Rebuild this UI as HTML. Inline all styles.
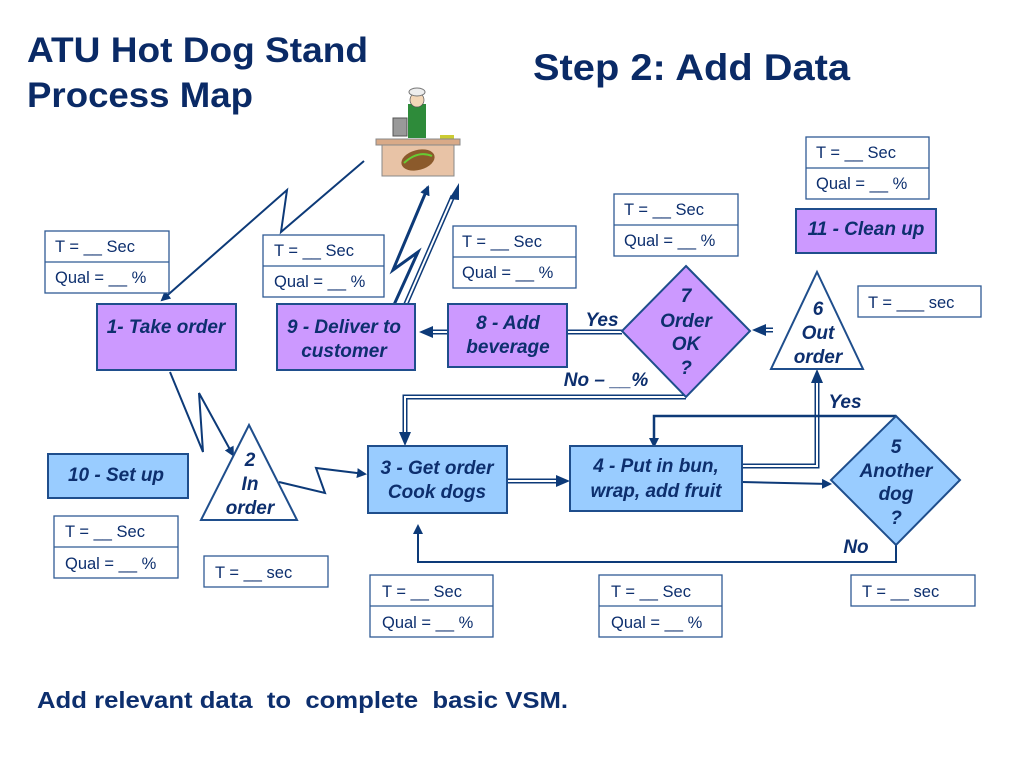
<!DOCTYPE html>
<html><head><meta charset="utf-8"><style>
body{margin:0;background:#fff}
svg{display:block}
text{font-family:"Liberation Sans",sans-serif;fill:#0d2f6e}
.t{font-size:35px;font-weight:bold;fill:#0a2a66}
.l{font-size:19px;font-weight:bold;font-style:italic;text-anchor:middle}
.d{font-size:16.5px}
.box{stroke:#1f4e8c;stroke-width:2}
.db{fill:#fff;stroke:#2f5b94;stroke-width:1.3}
.ln{stroke:#0d3a78;stroke-width:2;fill:none}
.dl{stroke:#0d3a78;stroke-width:5;fill:none}
.dw{stroke:#fff;stroke-width:2;fill:none}
</style></head><body>
<svg width="1024" height="768" viewBox="0 0 1024 768">
<defs><marker id="a" markerWidth="10" markerHeight="10" refX="8" refY="5" orient="auto" markerUnits="userSpaceOnUse"><path d="M0,0L10,5L0,10z" fill="#0d3a78"/></marker></defs>
<text class="t" x="27" y="62" textLength="341" lengthAdjust="spacingAndGlyphs">ATU Hot Dog Stand</text>
<text class="t" x="27" y="107" textLength="226" lengthAdjust="spacingAndGlyphs">Process Map</text>
<text class="t" x="533" y="80" style="font-size:37px" textLength="317" lengthAdjust="spacingAndGlyphs">Step 2: Add Data</text>
<text x="37" y="708" style="font-size:23px;font-weight:bold;white-space:pre" xml:space="preserve" textLength="531" lengthAdjust="spacingAndGlyphs">Add relevant data  to  complete  basic VSM.</text>

<!-- chef -->
<g>
<rect x="408" y="104" width="18" height="34" fill="#2e8b3a"/>
<circle cx="417" cy="100" r="7" fill="#f3d7b8" stroke="#555" stroke-width=".7"/>
<ellipse cx="417" cy="92" rx="8" ry="4" fill="#eee" stroke="#777"/>
<rect x="393" y="118" width="14" height="18" fill="#999" stroke="#555"/>
<rect x="440" y="135" width="14" height="5" fill="#cc3"/>
<rect x="376" y="139" width="84" height="6" fill="#d9aa88" stroke="#888"/>
<rect x="382" y="145" width="72" height="31" fill="#e8c3a6" stroke="#888"/>
<ellipse cx="418" cy="160" rx="17" ry="10" fill="#8b5a2b" transform="rotate(-15 418 160)"/>
<path d="M404,163 Q418,150 432,156" stroke="#6c3" stroke-width="2" fill="none"/>
</g>

<!-- connectors -->
<polyline class="ln" points="364,161 281,232 287,190 162,300" marker-end="url(#a)"/>
<polyline class="ln" points="393,307 418,252 393,270 428,187" marker-end="url(#a)" style="stroke-width:3"/>
<line class="dl" x1="405" y1="306" x2="453" y2="196"/><line class="dw" x1="405" y1="306" x2="453" y2="196"/>
<path d="M459,183 L449,199 L459,200z" fill="#0d3a78"/>
<polyline class="ln" points="170,372 203,452 199,393 233,455" marker-end="url(#a)"/>
<polyline class="ln" points="279,482 325,493 316,468 365,474" marker-end="url(#a)"/>
<line class="dl" x1="622" y1="332" x2="432" y2="332"/><line class="dw" x1="622" y1="332" x2="432" y2="332"/>
<path d="M419,332 L433,326 L433,338z" fill="#0d3a78"/>
<line class="dl" x1="773" y1="330" x2="765" y2="330"/><line class="dw" x1="776" y1="330" x2="764" y2="330"/>
<path d="M752,330 L766,324 L766,336z" fill="#0d3a78"/>
<polyline class="dl" points="686,397 405,397 405,433"/><polyline class="dw" points="686,397 405,397 405,433"/>
<path d="M405,446 L399,432 L411,432z" fill="#0d3a78"/>
<polyline class="dl" points="742,466 817,466 817,382"/><polyline class="dw" points="742,466 817,466 817,382"/>
<path d="M817,369 L811,383 L823,383z" fill="#0d3a78"/>
<polyline class="ln" points="896,416 654,416 654,446" marker-end="url(#a)" style="stroke-width:2.5"/>
<line class="ln" x1="742" y1="482" x2="830" y2="484" marker-end="url(#a)"/>
<polyline class="ln" points="896,545 896,562 418,562 418,526" marker-end="url(#a)"/>
<line class="dl" x1="507" y1="481" x2="558" y2="481"/><line class="dw" x1="507" y1="481" x2="558" y2="481"/>
<path d="M570,481 L556,475 L556,487z" fill="#0d3a78"/>

<!-- process boxes -->
<rect class="box" x="97" y="304" width="139" height="66" fill="#cc99ff"/>
<text class="l" x="166" y="333">1- Take order</text>
<rect class="box" x="277" y="304" width="138" height="66" fill="#cc99ff"/>
<text class="l" x="344" y="333">9 - Deliver to</text><text class="l" x="344" y="357">customer</text>
<rect class="box" x="448" y="304" width="119" height="63" fill="#cc99ff"/>
<text class="l" x="508" y="329">8 - Add</text><text class="l" x="508" y="353">beverage</text>
<rect class="box" x="796" y="209" width="140" height="44" fill="#cc99ff"/>
<text class="l" x="866" y="235">11 - Clean up</text>
<rect class="box" x="48" y="454" width="140" height="44" fill="#99ccff"/>
<text class="l" x="116" y="481">10 - Set up</text>
<rect class="box" x="368" y="446" width="139" height="67" fill="#99ccff"/>
<text class="l" x="437" y="474">3 - Get order</text><text class="l" x="437" y="498">Cook dogs</text>
<rect class="box" x="570" y="446" width="172" height="65" fill="#99ccff"/>
<text class="l" x="656" y="472">4 - Put in bun,</text><text class="l" x="656" y="497">wrap, add fruit</text>

<polygon class="box" points="249,425 297,520 201,520" fill="#fff"/>
<text class="l" x="250" y="466">2</text><text class="l" x="250" y="490">In</text><text class="l" x="250" y="514">order</text>
<polygon class="box" points="817,272 863,369 771,369" fill="#fff"/>
<text class="l" x="818" y="315">6</text><text class="l" x="818" y="339">Out</text><text class="l" x="818" y="363">order</text>
<polygon class="box" points="686,266 750,331 686,397 622,331" fill="#cc99ff"/>
<text class="l" x="686" y="302">7</text><text class="l" x="686" y="327">Order</text><text class="l" x="686" y="350">OK</text><text class="l" x="686" y="374">?</text>
<polygon class="box" points="896,416 960,480 896,545 831,480" fill="#99ccff"/>
<text class="l" x="896" y="453">5</text><text class="l" x="896" y="477">Another</text><text class="l" x="896" y="500">dog</text><text class="l" x="896" y="524">?</text>

<text class="l" x="602" y="326">Yes</text>
<text class="l" x="606" y="386">No – __%</text>
<text class="l" x="845" y="408">Yes</text>
<text class="l" x="856" y="553">No</text>

<!-- data boxes -->
<g class="d">
<rect class="db" x="45" y="231" width="124" height="62"/><line class="db" x1="45" y1="262" x2="169" y2="262"/>
<text x="55" y="252">T = __ Sec</text><text x="55" y="283">Qual = __ %</text>
<rect class="db" x="263" y="235" width="121" height="62"/><line class="db" x1="263" y1="266" x2="384" y2="266"/>
<text x="274" y="256">T = __ Sec</text><text x="274" y="287">Qual = __ %</text>
<rect class="db" x="453" y="226" width="123" height="62"/><line class="db" x1="453" y1="257" x2="576" y2="257"/>
<text x="462" y="247">T = __ Sec</text><text x="462" y="278">Qual = __ %</text>
<rect class="db" x="614" y="194" width="124" height="62"/><line class="db" x1="614" y1="225" x2="738" y2="225"/>
<text x="624" y="215">T = __ Sec</text><text x="624" y="246">Qual = __ %</text>
<rect class="db" x="806" y="137" width="123" height="62"/><line class="db" x1="806" y1="168" x2="929" y2="168"/>
<text x="816" y="158">T = __ Sec</text><text x="816" y="189">Qual = __ %</text>
<rect class="db" x="858" y="286" width="123" height="31"/><text x="868" y="308">T = ___ sec</text>
<rect class="db" x="54" y="516" width="124" height="62"/><line class="db" x1="54" y1="547" x2="178" y2="547"/>
<text x="65" y="537">T = __ Sec</text><text x="65" y="569">Qual = __ %</text>
<rect class="db" x="204" y="556" width="124" height="31"/><text x="215" y="578">T = __ sec</text>
<rect class="db" x="370" y="575" width="123" height="62"/><line class="db" x1="370" y1="606" x2="493" y2="606"/>
<text x="382" y="597">T = __ Sec</text><text x="382" y="628">Qual = __ %</text>
<rect class="db" x="599" y="575" width="123" height="62"/><line class="db" x1="599" y1="606" x2="722" y2="606"/>
<text x="611" y="597">T = __ Sec</text><text x="611" y="628">Qual = __ %</text>
<rect class="db" x="851" y="575" width="124" height="31"/><text x="862" y="597">T = __ sec</text>
</g>
</svg>
</body></html>
